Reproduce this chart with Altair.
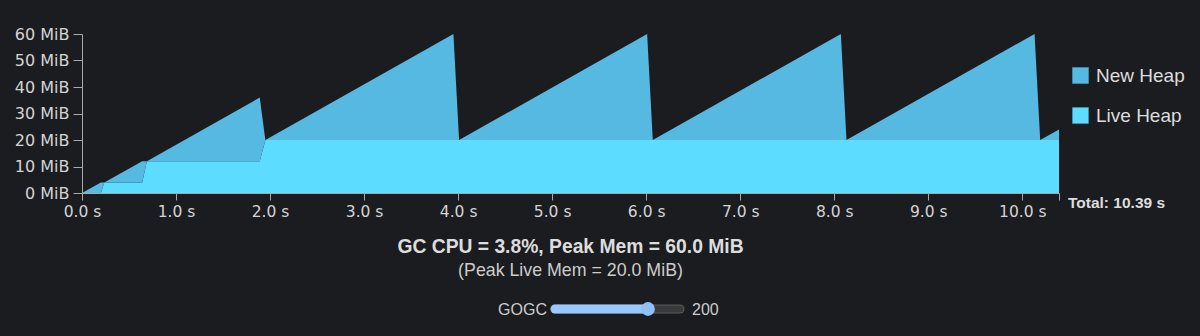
import altair as alt
import pandas as pd

# ---- data ----
times = [0, 0.20, 0.237, 0.64, 0.69, 1.89, 1.95, 3.95, 4.01, 6.01, 6.07, 8.07, 8.13, 10.13, 10.19, 10.39]
live_heap = [0, 0, 4, 4, 12, 12, 20, 20, 20, 20, 20, 20, 20, 20, 20, 20]
new_heap = [0, 4, 0, 8, 0, 24, 0, 40, 0, 40, 0, 40, 0, 40, 0, 4]
series = ["New Heap", "Live Heap"]
series_colors = ["#56b9e1", "#5cdcff"]
x_ticks = [0, 1, 2, 3, 4, 5, 6, 7, 8, 9, 10, 10.39]
y_ticks = [0, 10, 20, 30, 40, 50, 60]
total_time = 10.39
title_text = "GC CPU = 3.8%, Peak Mem = 60.0 MiB"
subtitle_text = "(Peak Live Mem = 20.0 MiB)"
slider_label = "GOGC"
slider_value = "200"

rows = []
for t, l, n in zip(times, live_heap, new_heap):
    rows.append({"t": t, "series": "Live Heap", "value": l, "ord": 0})
    rows.append({"t": t, "series": "New Heap", "value": n, "ord": 1})
df = pd.DataFrame(rows)

W, H = 977, 159
BG = "#1b1c1f"
TXT = "#d4d4d4"

x_scale = alt.Scale(domain=[0, total_time], nice=False, zero=False)
y_scale = alt.Scale(domain=[0, 60], nice=False)
x_axis = alt.Axis(values=x_ticks, title=None, grid=False,
                  labelExpr="datum.value > 10.3 ? '' : format(datum.value, '.1f') + ' s'",
                  labelFont="DejaVu Sans", labelFontSize=15.5, labelColor=TXT,
                  domainColor="#aaaaaa", tickColor="#aaaaaa", tickSize=7,
                  labelPadding=4, labelFlush=False, labelOverlap=False)
y_axis = alt.Axis(values=y_ticks, title=None, grid=False,
                  labelExpr="datum.value + ' MiB'",
                  labelFont="DejaVu Sans", labelFontSize=16, labelColor=TXT,
                  domainColor="#aaaaaa", tickColor="#aaaaaa", tickSize=9,
                  labelPadding=4, labelOverlap=False, labelFlush=False)

area = alt.Chart(df).mark_area(interpolate="linear").encode(
    x=alt.X("t:Q", scale=x_scale, axis=x_axis),
    y=alt.Y("value:Q", stack="zero", scale=y_scale, axis=y_axis),
    color=alt.Color("series:N", scale=alt.Scale(domain=series, range=series_colors),
                    legend=alt.Legend(title=None, orient="none", legendX=989, legendY=32,
                                      symbolType="square", symbolSize=256,
                                      symbolStrokeColor="#3f9cc4", symbolStrokeWidth=0.6,
                                      labelFont="Liberation Sans", labelFontSize=19,
                                      labelColor="#dddddd", labelOffset=6,
                                      rowPadding=20, padding=0)),
    order=alt.Order("ord:Q"),
)

one = pd.DataFrame({"k": [0]})

total_label = alt.Chart(one).mark_text(
    text=f"Total: {total_time:.2f} s", align="left", baseline="middle",
    dx=9, dy=10, font="Liberation Sans", fontWeight="bold", fontSize=15.5, color="#dddddd"
).encode(x=alt.XDatum(total_time, type="quantitative", scale=x_scale, axis=x_axis),
         y=alt.YDatum(0, type="quantitative", scale=y_scale, axis=y_axis))

cx = W / 2
title = alt.Chart(one).mark_text(
    text=title_text, align="center", baseline="alphabetic",
    font="Liberation Sans", fontWeight="bold", fontSize=19.3, color="#dddddd"
).encode(x=alt.value(cx), y=alt.value(218.5))

subtitle = alt.Chart(one).mark_text(
    text=subtitle_text, align="center", baseline="alphabetic",
    font="Liberation Sans", fontSize=17.8, color="#cccccc"
).encode(x=alt.value(cx), y=alt.value(241.5))

gogc = alt.Chart(one).mark_text(
    text=slider_label, align="right", baseline="alphabetic",
    font="Liberation Sans", fontSize=16, color="#cccccc"
).encode(x=alt.value(465), y=alt.value(280.5))

gogc_val = alt.Chart(one).mark_text(
    text=slider_value, align="left", baseline="alphabetic",
    font="Liberation Sans", fontSize=16, color="#cccccc"
).encode(x=alt.value(610), y=alt.value(280.5))

track_border = alt.Chart(one).mark_rule(strokeWidth=9, strokeCap="round", color="#5a5a5a").encode(
    x=alt.value(473), x2=alt.value(598), y=alt.value(275))
track = alt.Chart(one).mark_rule(strokeWidth=7, strokeCap="round", color="#3a3a3c").encode(
    x=alt.value(473), x2=alt.value(598), y=alt.value(275))
track_fill = alt.Chart(one).mark_rule(strokeWidth=9, strokeCap="round", color="#99c8ff").encode(
    x=alt.value(473), x2=alt.value(565), y=alt.value(275))
knob = alt.Chart(one).mark_circle(size=190, opacity=1, color="#8fc0fb").encode(
    x=alt.value(566), y=alt.value(275))

chart = alt.layer(
    area, total_label, title, subtitle, gogc, gogc_val, track_border, track, track_fill, knob
).properties(
    width=W, height=H,
    autosize=alt.AutoSizeParams(type="none"),
    padding={"left": 82, "top": 34, "right": 141, "bottom": 143},
    background=BG,
).configure_view(stroke=None)

chart.save("out.html", embed_options={"renderer": "svg", "actions": False})
